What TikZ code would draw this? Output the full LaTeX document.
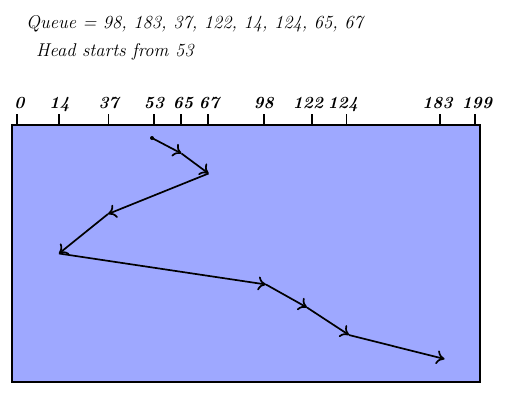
\documentclass[tikz,border=0pt]{standalone}
\usetikzlibrary{arrows.meta}
\definecolor{panel}{RGB}{158,168,255}
\tikzset{
  tick/.style={line width=1.5pt},
  lbl/.style={anchor=base, inner sep=0pt, font=\fontsize{17}{20}\selectfont\bfseries\itshape},
  ttl/.style={anchor=base west, inner sep=0pt, font=\fontsize{18.5}{22}\selectfont\itshape},
  seek/.style={line width=1.7pt, -{To[length=8pt,width=14pt]}},
}
\begin{document}
\begin{tikzpicture}[x=1pt,y=-1pt]
\useasboundingbox (0,0) rectangle (512,405);
\node[ttl] (q) at (26,28) {Queue = 98, 183, 37, 122, 14, 124, 65, 67};
\node[ttl] (h) at (36,56) {Head starts from 53};
\fill[panel] (12,125) rectangle (480,382);
\draw[line width=2pt] (12,125) rectangle (480,382);
\foreach \v/\x/\lx in {0/17/19.5,14/59/59.5,37/108.5/108.7,53/154/154,65/181/183,67/208/209,98/264/263.7,122/312/308,124/346.5/343,183/440/437.5,199/475/477}{
  \draw[tick] (\x,114) -- (\x,125);
  \node[lbl] (t\v) at (\lx,108) {\v};
}
\coordinate (p53) at (152,138);
\coordinate (p65) at (181.5,153.5);
\coordinate (p67) at (208.5,173.5);
\coordinate (p37) at (108,214);
\coordinate (p14) at (59,253.5);
\coordinate (p98) at (266,284.5);
\coordinate (p122) at (307,307.5);
\coordinate (p124) at (349,335);
\coordinate (p183) at (444.5,359);
\fill (p53) circle (2);
\draw[seek] (p53) -- (p65);
\draw[seek] (p65) -- (p67);
\draw[seek] (p67) -- (p37);
\draw[seek] (p37) -- (p14);
\draw[seek] (p14) -- (p98);
\draw[seek] (p98) -- (p122);
\draw[seek] (p122) -- (p124);
\draw[seek] (p124) -- (p183);
\end{tikzpicture}
\end{document}
